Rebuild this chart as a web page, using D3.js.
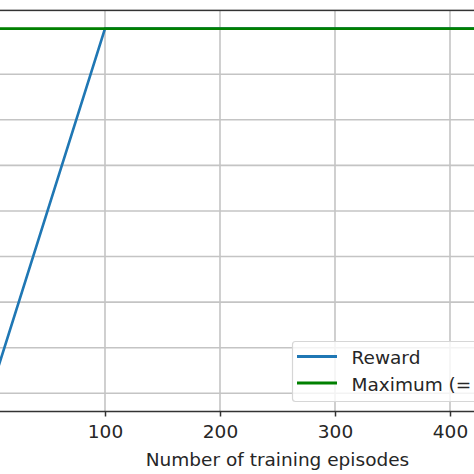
<!DOCTYPE html>
<html>
<head>
<meta charset="utf-8">
<script src="https://cdn.jsdelivr.net/npm/d3@7"></script>
<style>
	body { margin: 0; background: white; }
	text { font-family: "DejaVu Sans", sans-serif; }
</style>
</head>
<body>
<svg></svg>
<script>
var episodes = [0, 100, 200, 300, 400, 500];
var reward = [0, 200, 200, 200, 200, 200];
var maximum = [200, 200, 200, 200, 200, 200];
var xTicks = [0, 100, 200, 300, 400, 500];
var xLabelTicks = [100, 200, 300, 400];   // the ones that fall inside the picture
var yTicks = [0, 25, 50, 75, 100, 125, 150, 175, 200];
var legendLabels = ["Reward", "Maximum (= 200)"];

var width = 474; var height = 474;
var svg = d3.select("svg").attr("width", width).attr("height", height);

// the plot area runs past the left and right edge of the picture
var x = d3.scaleLinear().domain([-25, 525]).range([-38.75, 593.75]);
var y = d3.scaleLinear().domain([-10, 210]).range([411.5, 10.4]);

svg.append("clipPath").attr("id", "plot")
	.append("rect")
	.attr("x", x(-25)).attr("y", y(210))
	.attr("width", x(525) - x(-25)).attr("height", y(-10) - y(210));

// grid
svg.append("g").selectAll("line").data(xTicks).enter()
	.append("line")
	.attr("x1", function(d){return x(d)}).attr("x2", function(d){return x(d)})
	.attr("y1", y(210)).attr("y2", y(-10))
	.style("stroke", "#c4c4c4").style("stroke-width", 1.6);
svg.append("g").selectAll("line").data(yTicks).enter()
	.append("line")
	.attr("x1", x(-25)).attr("x2", x(525))
	.attr("y1", function(d){return y(d)}).attr("y2", function(d){return y(d)})
	.style("stroke", "#c4c4c4").style("stroke-width", 1.6);

var line = d3.line().x(function(d){return x(d[0])}).y(function(d){return y(d[1])});
var lines = svg.append("g").attr("clip-path", "url(#plot)");
lines.append("path")
	.datum(d3.zip(episodes, reward))
	.attr("d", line)
	.style("fill", "none").style("stroke", "#1f77b4").style("stroke-width", 2.6);
lines.append("path")
	.datum(d3.zip(episodes, maximum))
	.attr("d", line)
	.style("fill", "none").style("stroke", "#008000").style("stroke-width", 2.8);

// frame
svg.append("rect")
	.attr("x", x(-25)).attr("y", y(210))
	.attr("width", x(525) - x(-25)).attr("height", y(-10) - y(210))
	.style("fill", "none").style("stroke", "#333").style("stroke-width", 1.5);

var xAxis = svg.append("g").attr("transform", "translate(0," + y(-10) + ")")
	.call(d3.axisBottom(x).tickValues(xLabelTicks).tickSize(5).tickPadding(8));
xAxis.select(".domain").remove();
xAxis.selectAll("line").style("stroke", "#333").style("stroke-width", 1.5);
xAxis.selectAll("text").style("font-size", "18.5px").style("fill", "#262626")
	.style("font-family", "DejaVu Sans");

svg.append("text")
	.attr("x", x(250)).attr("y", 466)
	.attr("text-anchor", "middle")
	.style("font-size", "18.5px").style("fill", "#262626")
	.text("Number of training episodes");

// legend
var legend = svg.append("g");
legend.append("rect")
	.attr("x", 292.5).attr("y", 341.5).attr("width", 260).attr("height", 60)
	.attr("rx", 3)
	.style("fill", "white").style("fill-opacity", 0.8)
	.style("stroke", "#d6d6d6").style("stroke-width", 1.2);
var colors = ["#1f77b4", "#008000"];
var rows = legend.selectAll("g.row").data(legendLabels).enter()
	.append("g").attr("class", "row")
	.attr("transform", function(d, i){return "translate(0," + (356.5 + i * 26.5) + ")"});
rows.append("line")
	.attr("x1", 297).attr("x2", 337).attr("y1", 0).attr("y2", 0)
	.style("stroke", function(d, i){return colors[i]}).style("stroke-width", 2.8);
rows.append("text")
	.attr("x", 351.5).attr("y", 7.5)
	.style("font-size", "18.5px").style("fill", "#262626")
	.text(function(d){return d});
</script>
</body>
</html>
